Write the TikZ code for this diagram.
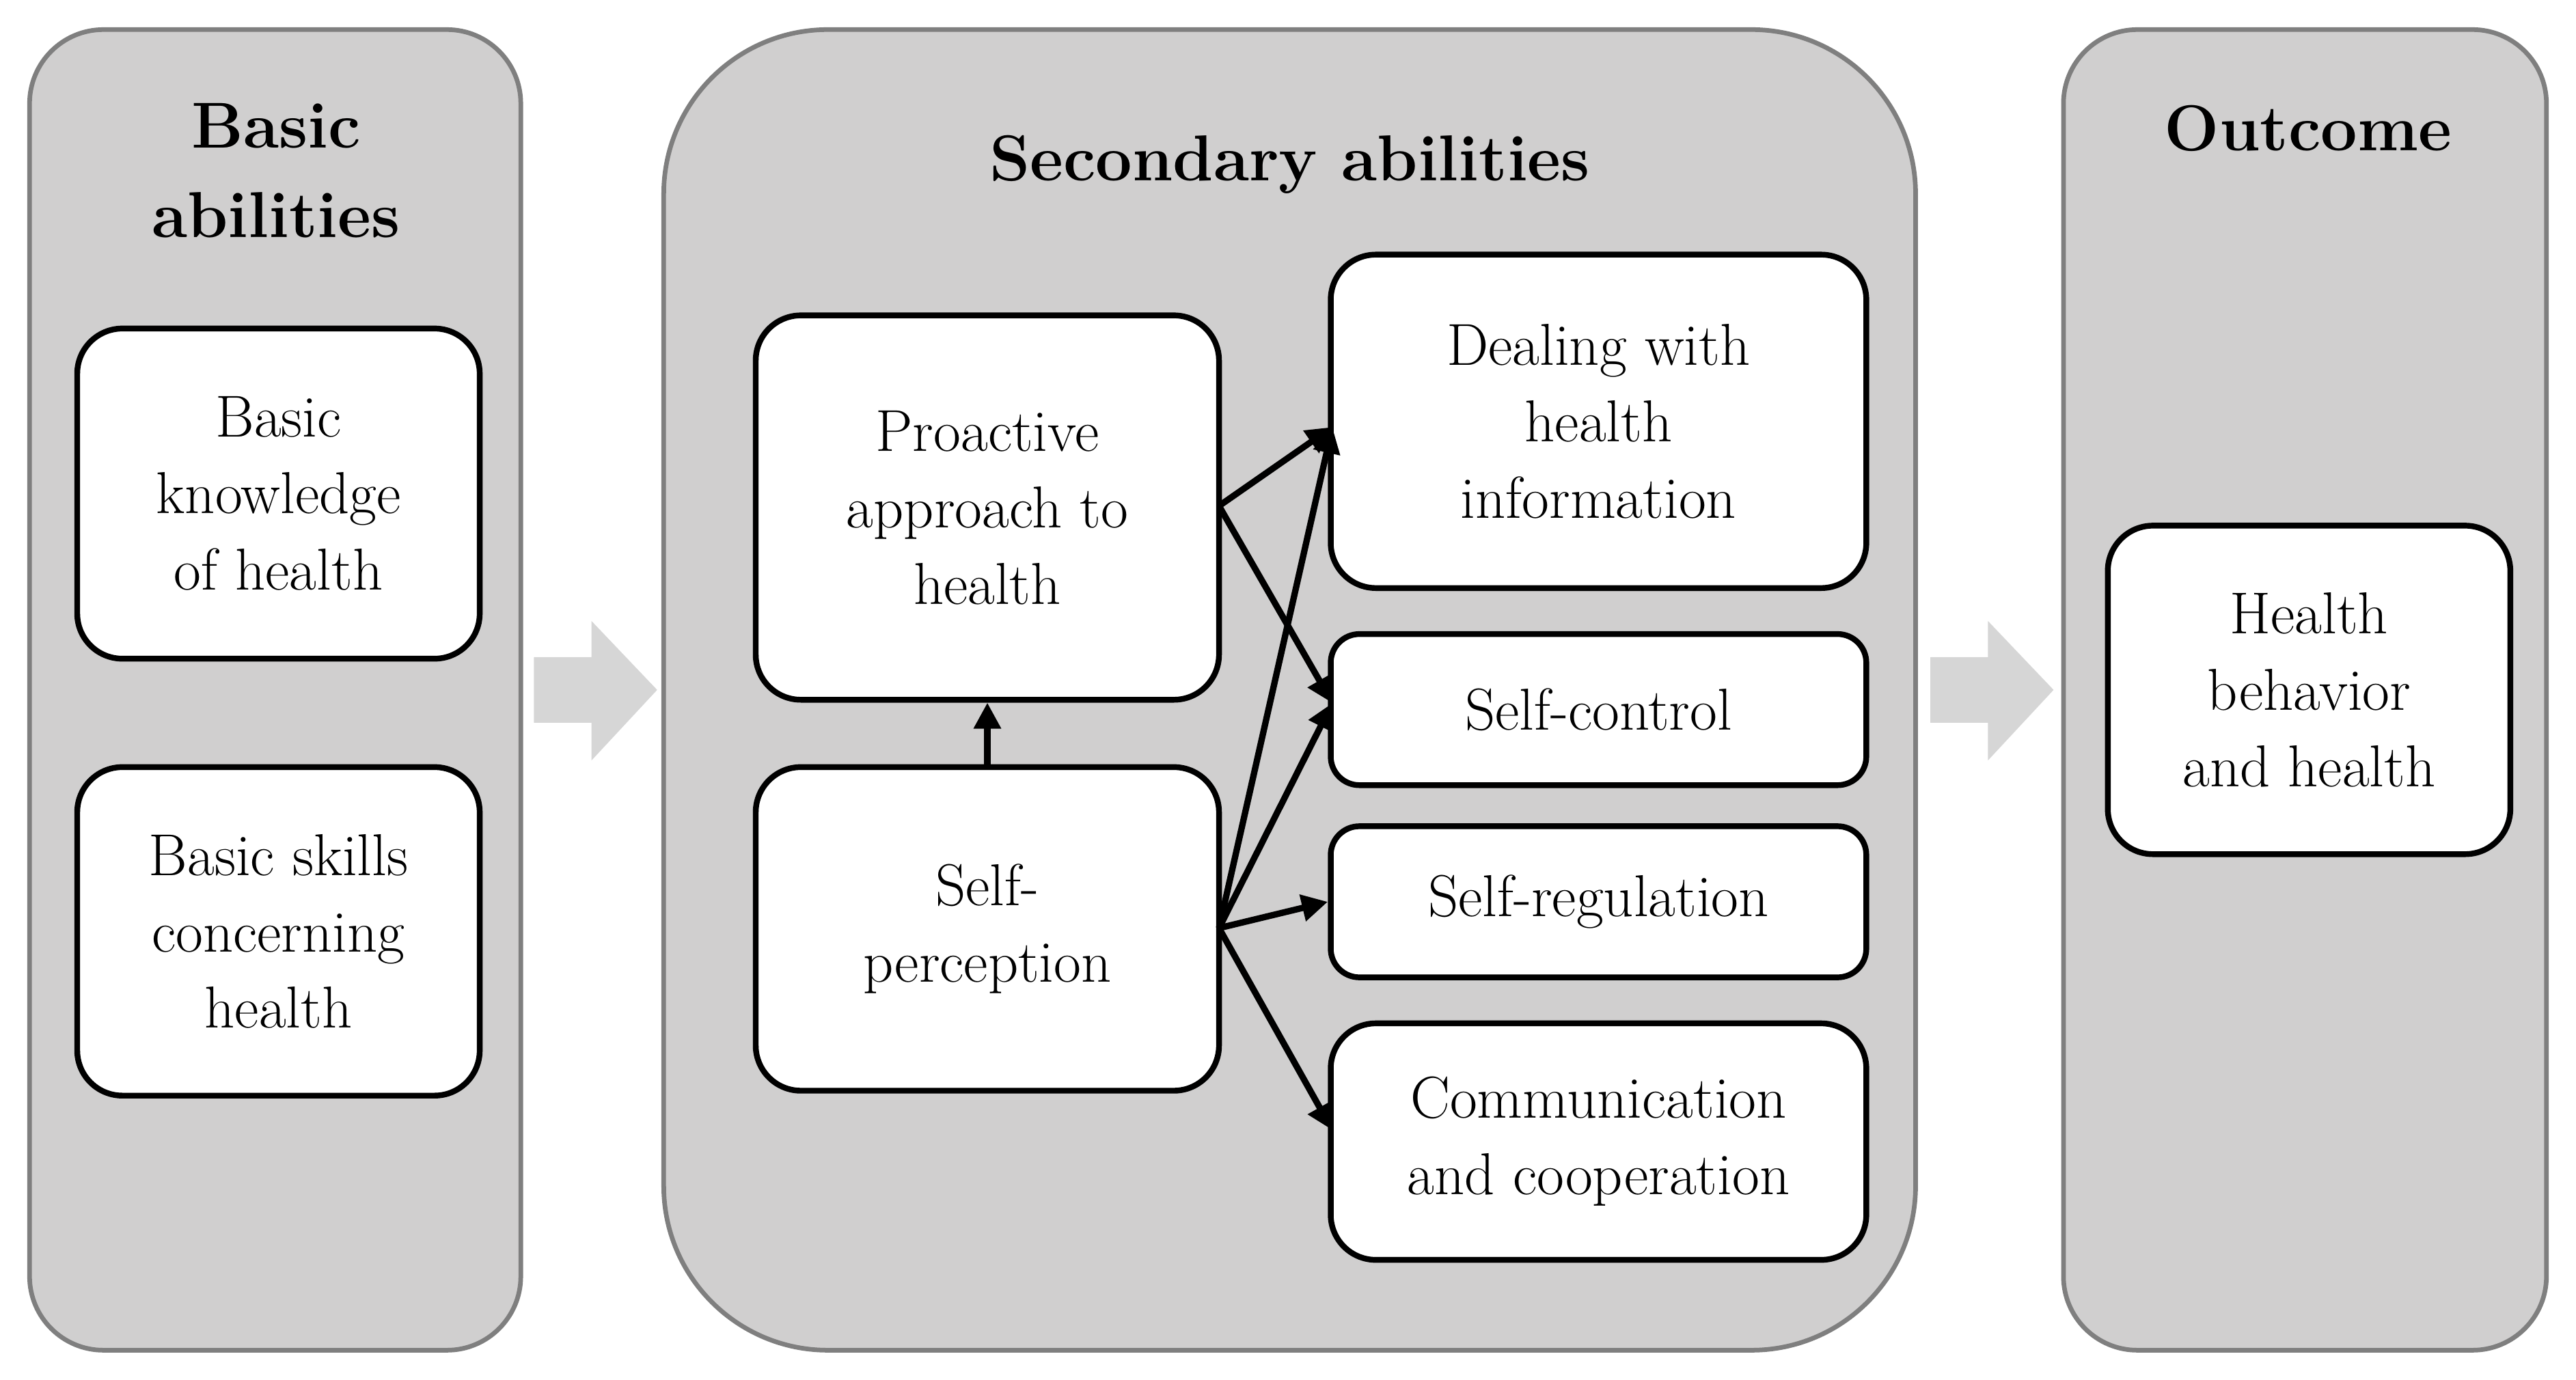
\documentclass[tikz,border=0pt]{standalone}
\usetikzlibrary{arrows.meta}
\definecolor{panel}{HTML}{D0CFCF}
\definecolor{pborder}{HTML}{7F7F7F}
\definecolor{bigarr}{HTML}{D6D6D6}
\tikzset{
  pnl/.style={draw=pborder,line width=1.6pt,fill=panel},
  bx/.style={draw=black,line width=2pt,fill=white,rounded corners=0.55cm,align=center,font=\fontsize{20.5}{26.5}\selectfont},
  conn/.style={line width=2.2pt,-{Triangle[length=9pt,width=9pt]}},
  ttl/.style={font=\bfseries\fontsize{22.5}{31}\selectfont,align=center}
}
\begin{document}
\begin{tikzpicture}[x=0.02cm,y=-0.02cm]
\useasboundingbox (0,0) rectangle (1568,840);
\draw[pnl,rounded corners=0.9cm] (18,18) rectangle (317,822);
\draw[pnl,rounded corners=2cm] (404,18) rectangle (1166,822);
\draw[pnl,rounded corners=0.9cm] (1256,18) rectangle (1550,822);
\node[ttl] (t1) at (168,104) {Basic\\abilities};
\node[ttl] (t2) at (785,100) {Secondary abilities};
\node[ttl] (t3) at (1405,78) {Outcome};
\node[bx,minimum width=245*0.02cm,minimum height=201*0.02cm] (bk) at (169.5,300.5) {Basic\\knowledge\\of health};
\node[bx,minimum width=245*0.02cm,minimum height=200*0.02cm] (bs) at (169.5,567) {Basic skills\\concerning\\health};
\node[bx,minimum width=282*0.02cm,minimum height=234*0.02cm] (pa) at (601,309) {Proactive\\approach to\\health};
\node[bx,minimum width=282*0.02cm,minimum height=197*0.02cm] (sp) at (601,565.5) {Self-\\perception};
\node[bx,minimum width=326*0.02cm,minimum height=203*0.02cm] (dh) at (973,256.5) {Dealing with\\health\\information};
\node[bx,rounded corners=0.35cm,minimum width=326*0.02cm,minimum height=92*0.02cm] (sc) at (973,432) {Self-control};
\node[bx,rounded corners=0.35cm,minimum width=326*0.02cm,minimum height=92*0.02cm] (sr) at (973,549) {Self-regulation};
\node[bx,minimum width=326*0.02cm,minimum height=144*0.02cm] (cc) at (973,695) {Communication\\and cooperation};
\node[bx,minimum width=245*0.02cm,minimum height=200*0.02cm] (hb) at (1405.5,420) {Health\\behavior\\and health};
\fill[bigarr] (325,400) -- (360,400) -- (360,378) -- (400,420) -- (360,463) -- (360,440) -- (325,440) -- cycle;
\fill[bigarr] (1175,400) -- (1210,400) -- (1210,378) -- (1250,420) -- (1210,463) -- (1210,440) -- (1175,440) -- cycle;
\coordinate (paR) at (742,308);
\coordinate (spR) at (742,565);
\coordinate (dhL) at (811,260);
\coordinate (scL) at (811,428);
\draw[conn] (paR) -- (dhL);
\draw[conn] (paR) -- (scL);
\draw[conn] (spR) -- (dhL);
\draw[conn] (spR) -- (scL);
\draw[conn] (spR) -- (sr.west);
\draw[conn] (spR) -- (811,688);
\draw[conn] (sp.north) -- (pa.south);
\end{tikzpicture}
\end{document}
